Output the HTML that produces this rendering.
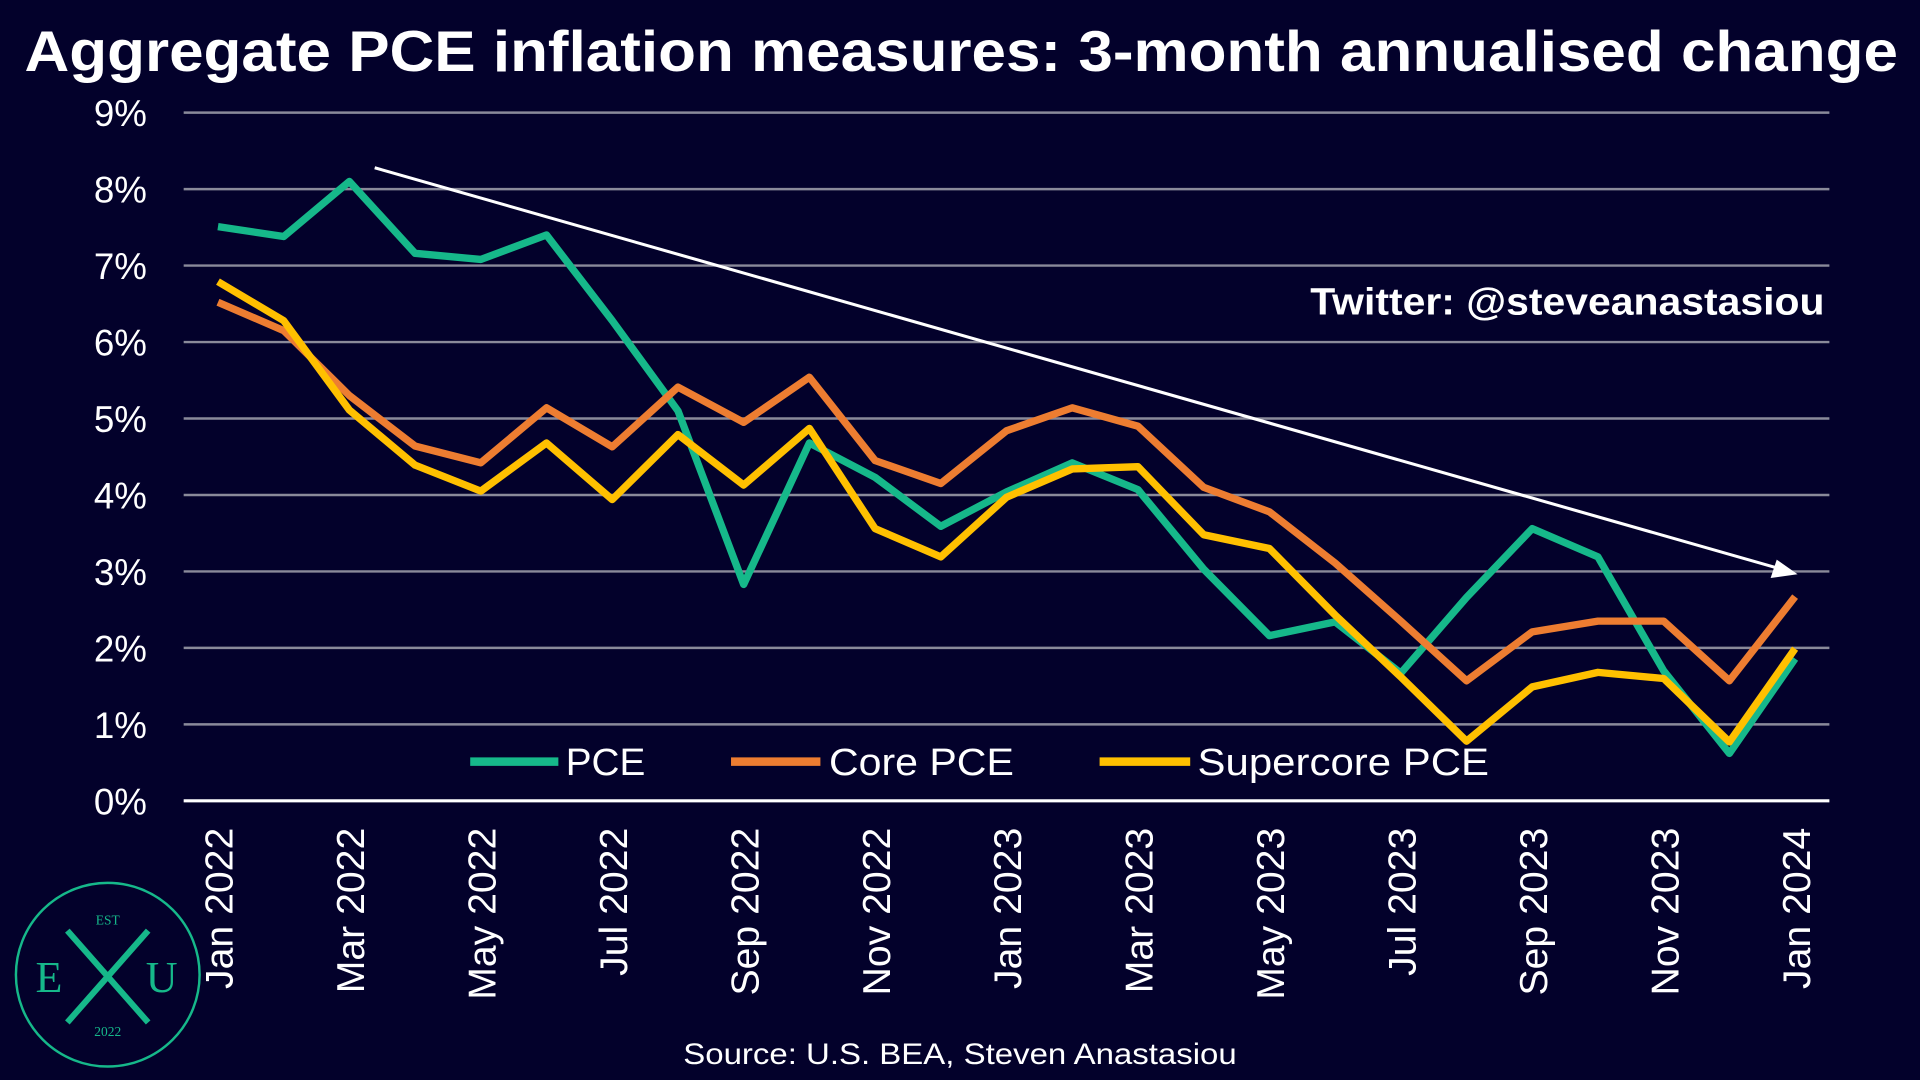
<!DOCTYPE html>
<html><head><meta charset="utf-8"><style>
html,body{margin:0;padding:0;background:#03012b;}
svg{display:block;font-family:"Liberation Sans",sans-serif;}
</style></head><body>
<svg id="chart" width="1920" height="1080" viewBox="0 0 1568 882" xmlns="http://www.w3.org/2000/svg">
<rect width="1568" height="882" fill="#03012b"/>
<text x="20" y="58" fill="#fff" font-size="47" font-weight="bold" textLength="1530" lengthAdjust="spacingAndGlyphs">Aggregate PCE inflation measures: 3-month annualised change</text>
<g id="grid"></g>
<g id="yticks"></g>
<g id="xticks"></g>
<line x1="306" y1="137" x2="1452" y2="464" stroke="#fff" stroke-width="2.5"/>
<polygon points="1468,469 1446,472 1451,457" fill="#fff"/>
<g id="series"></g>
<text x="1070" y="257" fill="#fff" font-size="31" font-weight="bold" textLength="420" lengthAdjust="spacingAndGlyphs">Twitter: @steveanastasiou</text>
<g>
<line x1="384" y1="622" x2="456" y2="622" stroke="#16b88a" stroke-width="7"/>
<text x="462" y="633" fill="#fff" font-size="31" textLength="65" lengthAdjust="spacingAndGlyphs">PCE</text>
<line x1="597" y1="622" x2="670" y2="622" stroke="#ed7d31" stroke-width="7"/>
<text x="677" y="633" fill="#fff" font-size="31" textLength="151" lengthAdjust="spacingAndGlyphs">Core PCE</text>
<line x1="898" y1="622" x2="972" y2="622" stroke="#ffc000" stroke-width="7"/>
<text x="978" y="633" fill="#fff" font-size="31" textLength="238" lengthAdjust="spacingAndGlyphs">Supercore PCE</text>
</g>
<text x="558" y="869" fill="#fff" font-size="24" textLength="452" lengthAdjust="spacingAndGlyphs">Source: U.S. BEA, Steven Anastasiou</text>
<g>
<circle cx="88" cy="796" r="75" fill="none" stroke="#16b88a" stroke-width="2"/>
<line x1="55" y1="760" x2="121" y2="835" stroke="#16b88a" stroke-width="5"/>
<line x1="121" y1="760" x2="55" y2="835" stroke="#16b88a" stroke-width="5"/>
<text x="88" y="755" text-anchor="middle" fill="#16b88a" font-size="11" font-family="Liberation Serif,serif">EST</text>
<text x="40" y="810" text-anchor="middle" fill="#16b88a" font-size="36" font-family="Liberation Serif,serif">E</text>
<text x="132" y="810" text-anchor="middle" fill="#16b88a" font-size="36" font-family="Liberation Serif,serif">U</text>
<text x="88" y="846" text-anchor="middle" fill="#16b88a" font-size="11" font-family="Liberation Serif,serif">2022</text>
</g>
</svg>
<script>
const months = ["Jan 2022","Feb 2022","Mar 2022","Apr 2022","May 2022","Jun 2022","Jul 2022","Aug 2022","Sep 2022","Oct 2022","Nov 2022","Dec 2022","Jan 2023","Feb 2023","Mar 2023","Apr 2023","May 2023","Jun 2023","Jul 2023","Aug 2023","Sep 2023","Oct 2023","Nov 2023","Dec 2023","Jan 2024"];
const pce = [7.51,7.38,8.1,7.16,7.08,7.4,6.28,5.1,2.83,4.68,4.23,3.59,4.04,4.42,4.07,3.03,2.16,2.34,1.67,2.66,3.56,3.19,1.7,0.62,1.86];
const corePce = [6.52,6.15,5.3,4.64,4.42,5.14,4.63,5.41,4.95,5.54,4.45,4.15,4.84,5.14,4.9,4.1,3.78,3.11,2.35,1.57,2.21,2.35,2.35,1.57,2.67];
const supercorePce = [6.79,6.28,5.11,4.39,4.05,4.68,3.94,4.79,4.13,4.87,3.56,3.19,3.97,4.34,4.37,3.48,3.3,2.43,1.62,0.78,1.49,1.68,1.6,0.77,1.99];
const yTicks = [0,1,2,3,4,5,6,7,8,9];
const NS="http://www.w3.org/2000/svg";
const X0=178,X1=1466,Y0=654,Y9=92;
const xs=i=>X0+(X1-X0)*i/(months.length-1);
const ys=v=>Y0-(Y0-Y9)*v/9;
function mk(t,a,p){const e=document.createElementNS(NS,t);for(const k in a)e.setAttribute(k,a[k]);p.appendChild(e);return e;}
const grid=document.getElementById('grid'),yt=document.getElementById('yticks'),xt=document.getElementById('xticks'),ser=document.getElementById('series');
yTicks.forEach(v=>{
  const l=mk('line',{x1:150,x2:1494,y1:ys(v),y2:ys(v),stroke:v===0?'#ffffff':'#8a8a9a','stroke-width':v===0?2.5:2},grid);
  
  
  const t=mk('text',{x:120,y:ys(v)+11,'text-anchor':'end',fill:'#fff','font-size':30},yt);
  t.textContent=v+'%';
  
  
});
months.forEach((m,i)=>{
  if(i%2)return;
  const x=xs(i)+12,y=676;
  const t=mk('text',{x:x,y:y,'text-anchor':'end',fill:'#fff','font-size':32,transform:`rotate(-90 ${x} ${y})`},xt);
  t.textContent=m;
  
  
});
function line(vals,col,name){
  const p=mk('polyline',{points:vals.map((v,i)=>xs(i)+','+ys(v)).join(' '),fill:'none',stroke:col,'stroke-width':6,'stroke-linejoin':'round'},ser);
  
  
}
line(pce,'#16b88a','pce-line');
line(corePce,'#ed7d31','core-pce-line');
line(supercorePce,'#ffc000','supercore-pce-line');
</script>
</body></html>
